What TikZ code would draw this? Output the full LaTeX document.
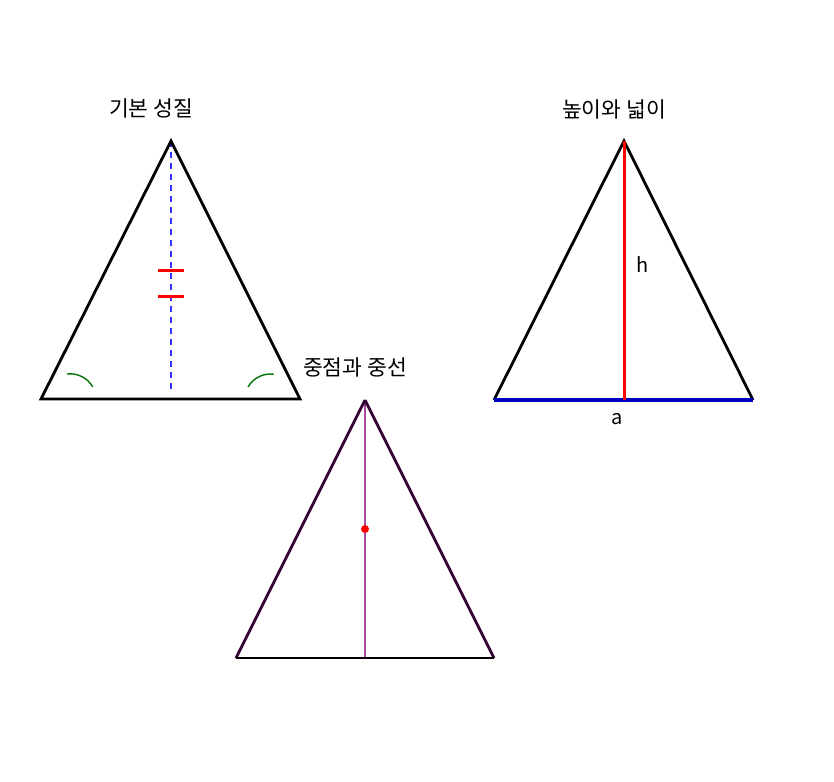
\documentclass[tikz,border=0pt]{standalone}
\usepackage{fontspec}
\setmainfont{Noto Sans CJK KR}
\begin{document}
\begin{tikzpicture}[x=1pt,y=-1pt,
  tri/.style={line width=2.8pt,line join=miter},
  ttl/.style={font=\fontsize{21.5}{24}\selectfont,inner sep=0pt,anchor=center},
  lbl/.style={font=\fontsize{20}{22}\selectfont,inner sep=0pt,anchor=center},
  angarc/.style={green!45!black,line width=1.4pt}]
\useasboundingbox (0,0) rectangle (834,781);
% triangle 1
\coordinate (A1) at (171,141);
\coordinate (B1) at (41,399);
\coordinate (C1) at (300,399);
\coordinate (M1) at (171,393);
\draw[blue!80!white,line width=1.5pt,dash pattern=on 6pt off 5pt] (A1) -- (M1);
\draw[tri,black] (A1) -- (B1) -- (C1) -- cycle;
\draw[red,line width=3pt] (158,270) -- (184,270) (158,296) -- (184,296);
\draw[angarc] (67,374) arc[start angle=-97,end angle=-30,radius=26];
\draw[angarc] (248,387) arc[start angle=-150,end angle=-83,radius=26];
\node[ttl] (t1) at (151,108) {기본 성질};
% triangle 2
\coordinate (A2) at (624,141);
\coordinate (B2) at (494,400);
\coordinate (C2) at (753,400);
\coordinate (M2) at (624,400);
\draw[tri,black] (B2) -- (A2) -- (C2);
\draw[blue!75!black,line width=3.3pt] (B2) -- (C2);
\draw[red,line width=3pt] (A2) -- (M2);
\node[lbl] (h) at (643,265) {h};
\node[lbl] (a) at (617,419) {a};
\node[ttl] (t2) at (614,109) {높이와 넓이};
% triangle 3
\coordinate (A3) at (365,400);
\coordinate (B3) at (236,658);
\coordinate (C3) at (494,658);
\coordinate (M3) at (365,658);
\draw[violet!70!white,line width=1.6pt] (A3) -- (M3);
\draw[tri,black!60!violet] (A3) -- (B3);
\draw[tri,black!60!violet] (A3) -- (C3);
\draw[tri,black] (B3) -- (C3);
\fill[red] (365,529) circle[radius=4];
\node[ttl] (t3) at (355,367) {중점과 중선};
\end{tikzpicture}
\end{document}
